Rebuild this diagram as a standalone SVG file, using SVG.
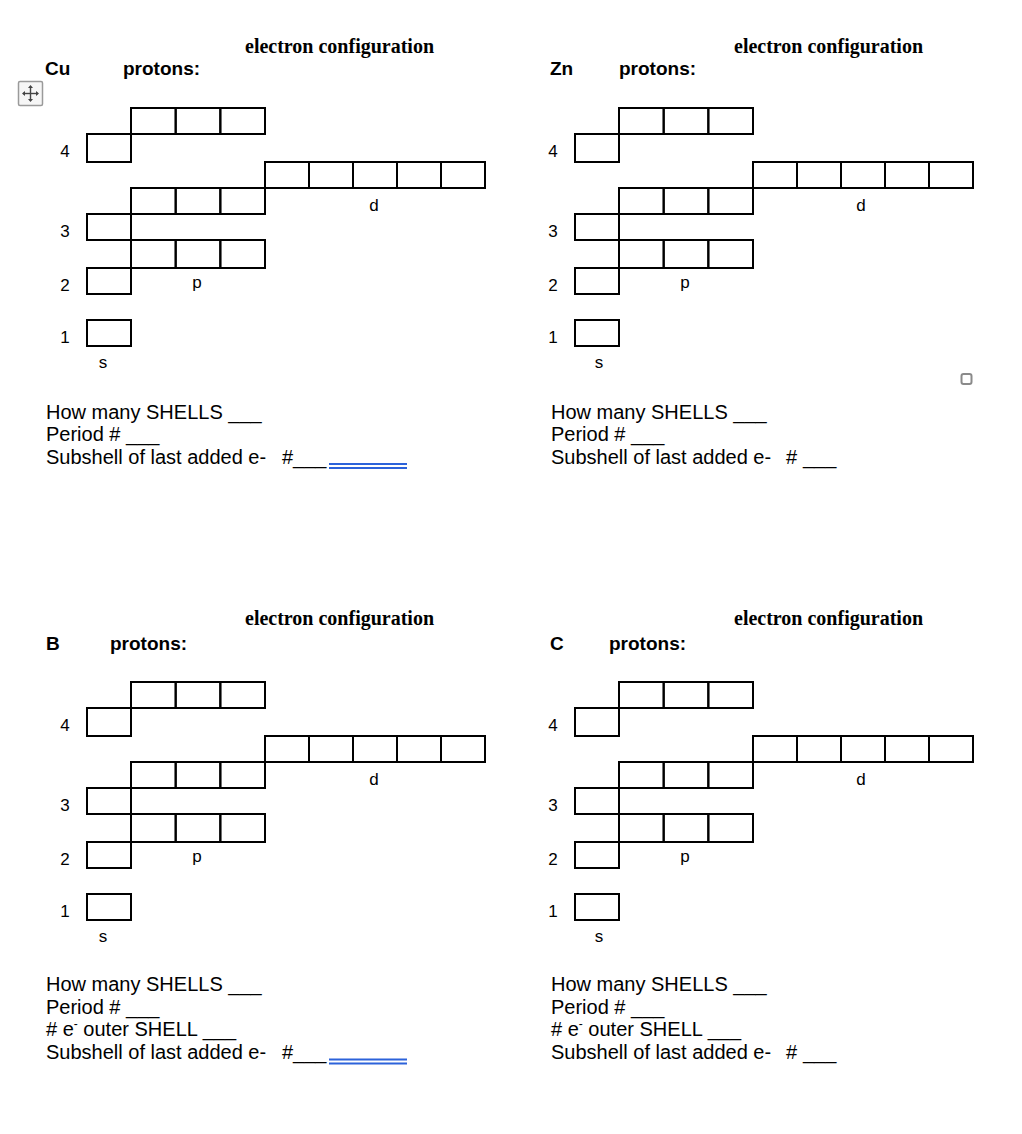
<svg xmlns="http://www.w3.org/2000/svg" width="1022" height="1134" viewBox="0 0 1022 1134">
<style>
.bx{fill:none;stroke:#000;stroke-width:2}
.nc{font-family:"Liberation Sans",Arial,sans-serif;font-size:17px;fill:#000;text-anchor:middle}
.el{font-family:"Liberation Sans",Arial,sans-serif;font-size:19px;font-weight:bold;fill:#000}
.ti{font-family:"Liberation Serif","Times New Roman",serif;font-size:20px;font-weight:bold;fill:#000}
.tx{font-family:"Liberation Sans",Arial,sans-serif;font-size:20px;fill:#000}
.blue{stroke:#2c62da;stroke-width:2}
</style>
<defs>
<g id="grid">
<rect class="bx" x="131" y="108" width="44.67" height="26"/>
<rect class="bx" x="175.67" y="108" width="44.67" height="26"/>
<rect class="bx" x="220.33" y="108" width="44.67" height="26"/>
<rect class="bx" x="87" y="134" width="44" height="28"/>
<rect class="bx" x="265" y="162" width="44" height="26"/>
<rect class="bx" x="309" y="162" width="44" height="26"/>
<rect class="bx" x="353" y="162" width="44" height="26"/>
<rect class="bx" x="397" y="162" width="44" height="26"/>
<rect class="bx" x="441" y="162" width="44" height="26"/>
<rect class="bx" x="131" y="188" width="44.67" height="26"/>
<rect class="bx" x="175.67" y="188" width="44.67" height="26"/>
<rect class="bx" x="220.33" y="188" width="44.67" height="26"/>
<rect class="bx" x="87" y="214" width="44" height="26"/>
<rect class="bx" x="131" y="240" width="44.67" height="28"/>
<rect class="bx" x="175.67" y="240" width="44.67" height="28"/>
<rect class="bx" x="220.33" y="240" width="44.67" height="28"/>
<rect class="bx" x="87" y="268" width="44" height="26"/>
<rect class="bx" x="87" y="320" width="44" height="26"/>
</g>
</defs>

<g id="panel-cu">
<text class="ti" x="245" y="53">electron configuration</text>
<text class="el" x="45" y="75">Cu</text>
<text class="el" x="123" y="75">protons:</text>
<use href="#grid"/>
<text class="nc" x="65" y="157">4</text>
<text class="nc" x="65" y="237">3</text>
<text class="nc" x="65" y="291">2</text>
<text class="nc" x="65" y="343">1</text>
<text class="nc" x="103" y="368">s</text>
<text class="nc" x="197" y="288">p</text>
<text class="nc" x="374" y="211">d</text>
<text class="tx" x="46" y="418.7">How many SHELLS ___</text>
<text class="tx" x="46" y="441">Period # ___</text>
<text class="tx" x="46" y="464"><tspan>Subshell of last added e-</tspan><tspan x="282">#___</tspan></text>
<line class="blue" x1="329" y1="464" x2="407" y2="464"/>
<line class="blue" x1="329" y1="468" x2="407" y2="468"/>
</g>

<g id="panel-zn">
<text class="ti" x="734" y="53">electron configuration</text>
<text class="el" x="550" y="75">Zn</text>
<text class="el" x="619" y="75">protons:</text>
<use href="#grid" transform="translate(488,0)"/>
<text class="nc" x="553" y="157">4</text>
<text class="nc" x="553" y="237">3</text>
<text class="nc" x="553" y="291">2</text>
<text class="nc" x="553" y="343">1</text>
<text class="nc" x="599" y="368">s</text>
<text class="nc" x="685" y="288">p</text>
<text class="nc" x="861" y="211">d</text>
<text class="tx" x="551" y="418.7">How many SHELLS ___</text>
<text class="tx" x="551" y="441">Period # ___</text>
<text class="tx" x="551" y="464"><tspan>Subshell of last added e-</tspan><tspan x="786">#</tspan><tspan x="803">___</tspan></text>
</g>

<g id="panel-b">
<text class="ti" x="245" y="625">electron configuration</text>
<text class="el" x="46" y="650">B</text>
<text class="el" x="110" y="650">protons:</text>
<use href="#grid" transform="translate(0,574)"/>
<text class="nc" x="65" y="731">4</text>
<text class="nc" x="65" y="811">3</text>
<text class="nc" x="65" y="865">2</text>
<text class="nc" x="65" y="917">1</text>
<text class="nc" x="103" y="942">s</text>
<text class="nc" x="197" y="862">p</text>
<text class="nc" x="374" y="785">d</text>
<text class="tx" x="46" y="991">How many SHELLS ___</text>
<text class="tx" x="46" y="1013.5">Period # ___</text>
<text class="tx" x="46" y="1036"># e<tspan font-size="12" dy="-8">-</tspan><tspan dy="8"> outer SHELL ___</tspan></text>
<text class="tx" x="46" y="1059"><tspan>Subshell of last added e-</tspan><tspan x="282">#___</tspan></text>
<line class="blue" x1="329" y1="1059.5" x2="407" y2="1059.5"/>
<line class="blue" x1="329" y1="1063.5" x2="407" y2="1063.5"/>
</g>

<g id="panel-c">
<text class="ti" x="734" y="625">electron configuration</text>
<text class="el" x="550" y="650">C</text>
<text class="el" x="609" y="650">protons:</text>
<use href="#grid" transform="translate(488,574)"/>
<text class="nc" x="553" y="731">4</text>
<text class="nc" x="553" y="811">3</text>
<text class="nc" x="553" y="865">2</text>
<text class="nc" x="553" y="917">1</text>
<text class="nc" x="599" y="942">s</text>
<text class="nc" x="685" y="862">p</text>
<text class="nc" x="861" y="785">d</text>
<text class="tx" x="551" y="991">How many SHELLS ___</text>
<text class="tx" x="551" y="1013.5">Period # ___</text>
<text class="tx" x="551" y="1036"># e<tspan font-size="12" dy="-8">-</tspan><tspan dy="8"> outer SHELL ___</tspan></text>
<text class="tx" x="551" y="1059"><tspan>Subshell of last added e-</tspan><tspan x="786">#</tspan><tspan x="803">___</tspan></text>
</g>

<g id="move-handle">
<rect x="18.5" y="81.5" width="24" height="24" rx="1.5" fill="#f6f6f6" stroke="#9a9a9a" stroke-width="1.5"/>
<g stroke="#444" stroke-width="1.4" fill="none">
<line x1="23" y1="93.5" x2="38" y2="93.5"/>
<line x1="30.5" y1="86" x2="30.5" y2="101"/>
</g>
<g fill="#444">
<polygon points="22,93.5 25,91 25,96"/>
<polygon points="39,93.5 36,91 36,96"/>
<polygon points="30.5,85 28,88 33,88"/>
<polygon points="30.5,102 28,99 33,99"/>
</g>
</g>

<g id="checkbox">
<rect x="961.5" y="374" width="10" height="10" rx="2" fill="#fff" stroke="#8a8a8a" stroke-width="2"/>
</g>
</svg>
